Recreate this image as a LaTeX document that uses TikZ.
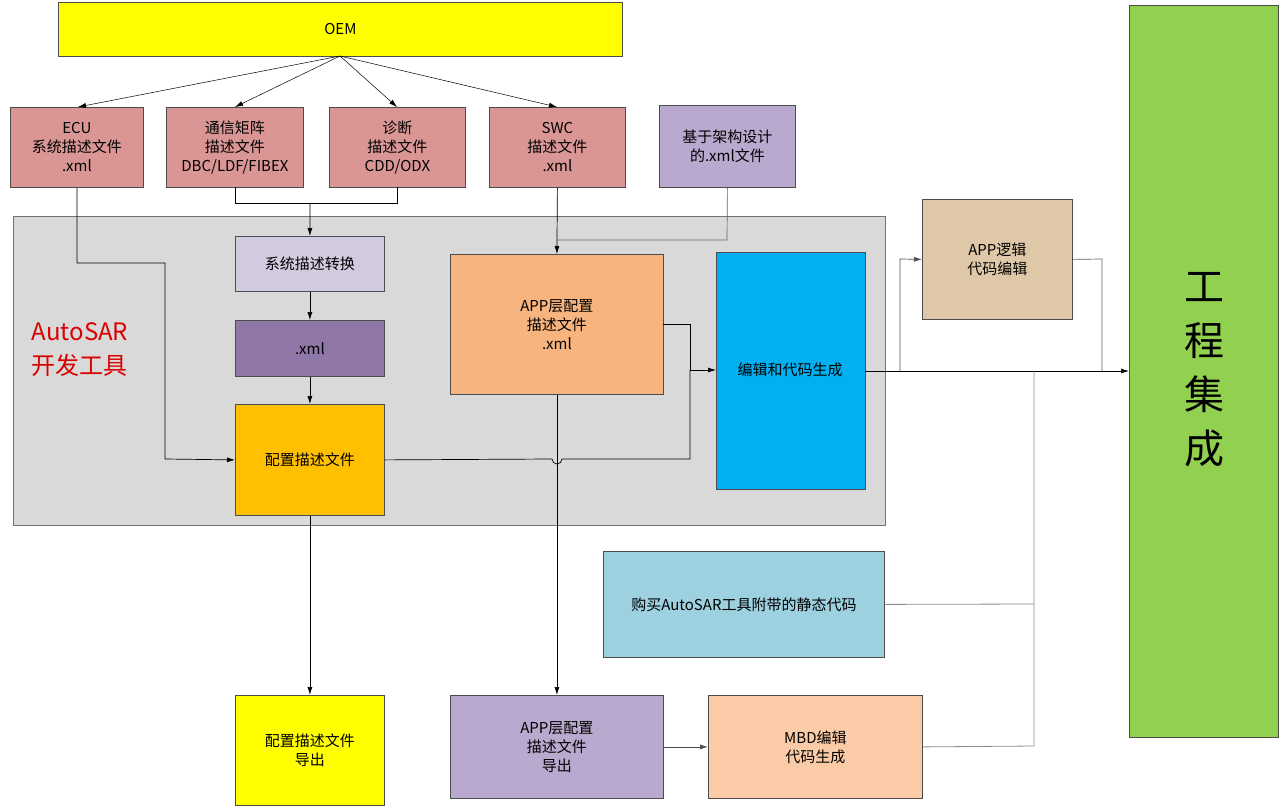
\documentclass[tikz,border=0pt]{standalone}
\usepackage{fontspec}
\setmainfont{Noto Sans CJK SC}
\usetikzlibrary{arrows.meta}
\definecolor{cred}{HTML}{D99694}
\definecolor{carch}{HTML}{B9A9CE}
\definecolor{csys}{HTML}{D2CBE0}
\definecolor{cxml}{HTML}{8F77A8}
\definecolor{ccfg}{HTML}{FFC000}
\definecolor{capp}{HTML}{F7B47E}
\definecolor{cgen}{HTML}{00B0F0}
\definecolor{clog}{HTML}{DFC8A8}
\definecolor{cproj}{HTML}{92D050}
\definecolor{cbuy}{HTML}{9DD1DF}
\definecolor{cmbd}{HTML}{FACBA6}
\definecolor{cyel}{HTML}{FFFF00}
\begin{document}
\begin{tikzpicture}[x=1pt,y=-1pt,
  box/.style={draw=black!70,line width=0.8pt,inner sep=0pt},
  arr/.style={-{Latex[length=8pt,width=5pt]},line width=0.7pt},
  ln/.style={line width=0.7pt},
  gl/.style={line width=0.8pt,draw=black!45}]
\useasboundingbox (0,0) rectangle (1280,806);
\fill[black!15] (13,216) rectangle (885,525);
\draw[black!55,line width=0.8pt] (13,216) rectangle (885,525);
\newcommand{\bx}[6]{\node[box,fill=#6,minimum width=#4-#2,minimum height=#5-#3,anchor=north west] (#1) at (#2,#3) {};}
\bx{oem}{58}{2}{622}{56}{cyel}
\bx{ecu}{10}{107}{143}{187}{cred}
\bx{com}{166}{107}{303}{187}{cred}
\bx{dia}{329}{107}{465}{187}{cred}
\bx{swc}{489}{107}{625}{187}{cred}
\bx{arch}{659}{105}{795}{187}{carch}
\bx{sys}{235}{236}{384}{291}{csys}
\bx{xml}{235}{320}{384}{376}{cxml}
\bx{cfg}{235}{404}{384}{515}{ccfg}
\bx{app}{450}{254}{663}{394}{capp}
\bx{gen}{716}{252}{865}{489}{cgen}
\bx{logic}{922}{199}{1072}{319}{clog}
\bx{proj}{1129}{5}{1278}{737}{cproj}
\bx{buy}{603}{551}{884}{657}{cbuy}
\bx{cfgout}{235}{695}{384}{805}{cyel}
\bx{appout}{450}{695}{663}{798}{carch}
\bx{mbd}{708}{695}{922}{798}{cmbd}
\tikzset{t/.style={font=\fontsize{15}{19}\selectfont,align=center}}
\node[t] at (oem) {OEM};
\node[t] at (ecu) {ECU\\系统描述文件\\.xml};
\node[t] at (com) {通信矩阵\\描述文件\\DBC/LDF/FIBEX};
\node[t] at (dia) {诊断\\描述文件\\CDD/ODX};
\node[t] at (swc) {SWC\\描述文件\\.xml};
\node[t] at (arch) {基于架构设计\\的.xml文件};
\node[t] at (sys) {系统描述转换};
\node[t] at (xml) {.xml};
\node[t] at (cfg) {配置描述文件};
\node[t] at (app) {APP层配置\\描述文件\\.xml};
\node[t] at (790,370) {编辑和代码生成};
\node[t] at (logic) {APP逻辑\\代码编辑};
\node[font=\fontsize{40}{54}\selectfont,align=center] at (1204,370) {工\\程\\集\\成};
\node[t] at (buy) {购买AutoSAR工具附带的静态代码};
\node[t] at (cfgout) {配置描述文件\\导出};
\node[t] at (appout) {APP层配置\\描述文件\\导出};
\node[t] at (mbd) {MBD编辑\\代码生成};
\node[text=red!85!black,font=\fontsize{24}{34}\selectfont,align=left] (lab) at (80,350) {AutoSAR\\开发工具};
\coordinate (fan) at (340,56);
\foreach \x in {78,235,397,557} \draw[arr,line width=0.5pt] (fan) -- (\x,107);
\draw[arr] (ecu.south) -- (77,263) -- (165,263) -- (165,459) -- (cfg.west);
\draw[ln] (235,187) -- (235,203) -- (397,203) -- (397,187);
\draw[arr] (310,203) -- (sys.north);
\draw[arr] (sys) -- (xml);
\draw[arr] (xml) -- (cfg);
\draw[arr] (swc.south) -- (app.north);
\draw[ln,black!60] (arch.south) -- (727,240) -- (557,240);
\draw[arr] (663,324) -- (690,324) -- (690,370) -- (gen.west|-0,370);
\draw[ln] (cfg.east) -- (552,459) arc (180:0:5) -- (690,459) -- (690,370);
\draw[arr] (app.south) -- (appout.north);
\draw[arr] (cfg.south) -- (cfgout.north);
\draw[arr] (865,371) -- (1129,371);
\draw[arr,black!70] (900,371) -- (900,259) -- (logic.west);
\draw[ln,black!60] (logic.east) -- (1102,259) -- (1102,371);
\draw[gl] (buy.east) -- (1034,604);
\draw[gl] (mbd.east) -- (1034,746) -- (1034,371);
\draw[arr,black!70] (appout.east) -- (mbd.west);
\end{tikzpicture}
\end{document}
